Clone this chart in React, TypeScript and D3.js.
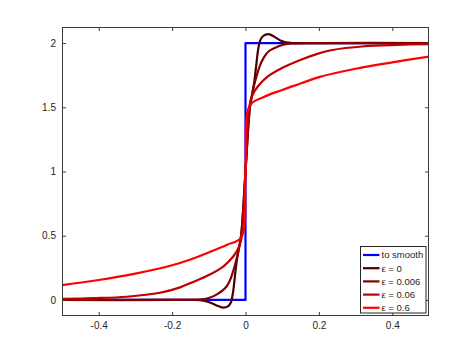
import React from 'react';
import * as d3 from 'd3';

const WIDTH = 474;
const HEIGHT = 355;
const BOX = { left: 62, right: 429, top: 27, bottom: 316 };
const FONT = '"Liberation Sans", Arial, Helvetica, sans-serif';
const AXIS_COLOR = '#3a3a3a';

// values
const xTicks = [-0.4, -0.2, 0, 0.2, 0.4];
const yTicks = [0, 0.5, 1, 1.5, 2];

const stepX = [-0.5, 0, 0, 0.5];
const stepY = [0, 0, 2, 2];

const eps0X = [-0.5, -0.3, -0.15, -0.124, -0.097, -0.075, -0.06, -0.048, -0.04, -0.034, -0.029, -0.024, -0.019, -0.012, 0,
  0.012, 0.019, 0.024, 0.029, 0.034, 0.04, 0.048, 0.063, 0.078, 0.095, 0.11, 0.13, 0.15, 0.3, 0.5];
const eps0Y = [0, 0, 0, -0.002, -0.02, -0.047, -0.06, -0.05, -0.02, 0.06, 0.18, 0.3, 0.39, 0.5, 1,
  1.5, 1.61, 1.7, 1.82, 1.94, 2.02, 2.055, 2.07, 2.05, 2.02, 2.005, 2, 2, 2, 2];

const eps1X = [-0.5, -0.2, -0.12, -0.1, -0.078, -0.051, -0.038, -0.029, -0.02, -0.012, 0,
  0.012, 0.02, 0.029, 0.038, 0.051, 0.065, 0.078, 0.1, 0.12, 0.2, 0.5];
const eps1Y = [0, 0, 0.005, 0.015, 0.043, 0.107, 0.185, 0.27, 0.37, 0.5, 1,
  1.5, 1.63, 1.73, 1.815, 1.893, 1.94, 1.96, 1.985, 1.995, 2, 2];

const eps2X = [-0.5, -0.415, -0.324, -0.233, -0.178, -0.151, -0.097, -0.06, -0.033, -0.018, -0.01, 0,
  0.01, 0.018, 0.033, 0.06, 0.097, 0.151, 0.2, 0.233, 0.324, 0.415, 0.5];
const eps2Y = [0.008, 0.014, 0.025, 0.056, 0.098, 0.13, 0.198, 0.262, 0.34, 0.41, 0.5, 1,
  1.5, 1.59, 1.66, 1.738, 1.802, 1.87, 1.92, 1.944, 1.975, 1.986, 1.992];

const eps3X = [-0.5, -0.4, -0.3, -0.2, -0.15, -0.1, -0.05, -0.012, 0,
  0.012, 0.05, 0.1, 0.15, 0.2, 0.3, 0.4, 0.5];
const eps3Y = [0.115, 0.155, 0.205, 0.27, 0.315, 0.37, 0.43, 0.485, 1,
  1.515, 1.58, 1.635, 1.685, 1.735, 1.8, 1.85, 1.895];

const seriesNames = ['to smooth', 'ε = 0', 'ε = 0.006', 'ε = 0.06', 'ε = 0.6'];
const seriesX = [stepX, eps0X, eps1X, eps2X, eps3X];
const seriesY = [stepY, eps0Y, eps1Y, eps2Y, eps3Y];
const COLORS = ['#0000ff', '#4a0000', '#840000', '#c00000', '#ff0000'];

const x = d3.scaleLinear().domain([-0.5, 0.5]).range([BOX.left, BOX.right]);
const y = d3.scaleLinear().domain([-0.125, 2.125]).range([BOX.bottom, BOX.top]);

/**
 * Style a d3 axis group MATLAB-like
 */
function styleAxis(sel) {
  sel.select('.domain').remove();
  sel.selectAll('line').attr('stroke', AXIS_COLOR);
  sel.selectAll('text').attr('fill', '#262626').style('font-family', FONT).style('font-size', '10px');
}

export default function App() {
  const fmt = (d) => `${d}`;

  const line = (xs, ys, step) => d3.line()
    .x((d, i) => x(xs[i]))
    .y((d, i) => y(ys[i]))
    .curve(step ? d3.curveLinear : d3.curveCatmullRom.alpha(0.5))(xs);

  const legend = { left: 360.5, top: 246.5, width: 65.5, height: 66.5, row: 13.2 };

  return <svg width={WIDTH} height={HEIGHT} style={{ position: 'absolute', left: 0, top: 0, background: '#fff' }}>
    <defs>
      <clipPath id='plot'>
        <rect x={BOX.left} y={BOX.top} width={BOX.right - BOX.left} height={BOX.bottom - BOX.top} />
      </clipPath>
    </defs>
    <rect x={BOX.left} y={BOX.top} width={BOX.right - BOX.left} height={BOX.bottom - BOX.top} fill='#fff' />

    <g clipPath='url(#plot)'>
      {seriesX.map((xs, i) =>
        <path key={i} d={line(xs, seriesY[i], i === 0)} fill='none' stroke={COLORS[i]} strokeWidth={2.2}
          strokeLinejoin='round' strokeLinecap='butt' />
      )}
    </g>

    <g transform={`translate(0,${BOX.bottom})`}
      ref={(el) => { if (el) d3.select(el).call(d3.axisBottom(x).tickValues(xTicks).tickFormat(fmt).tickSizeInner(-4).tickSizeOuter(0).tickPadding(6)).call(styleAxis); }} />
    <g transform={`translate(0,${BOX.top})`}
      ref={(el) => { if (el) d3.select(el).call(d3.axisTop(x).tickValues(xTicks).tickFormat(() => '').tickSizeInner(-4).tickSizeOuter(0)).call(styleAxis); }} />
    <g transform={`translate(${BOX.left},0)`}
      ref={(el) => { if (el) d3.select(el).call(d3.axisLeft(y).tickValues(yTicks).tickFormat(fmt).tickSizeInner(-4).tickSizeOuter(0).tickPadding(6)).call(styleAxis); }} />
    <g transform={`translate(${BOX.right},0)`}
      ref={(el) => { if (el) d3.select(el).call(d3.axisRight(y).tickValues(yTicks).tickFormat(() => '').tickSizeInner(-4).tickSizeOuter(0)).call(styleAxis); }} />

    <rect x={BOX.left + 0.5} y={BOX.top + 0.5} width={BOX.right - BOX.left - 1} height={BOX.bottom - BOX.top - 1}
      fill='none' stroke={AXIS_COLOR} strokeWidth={1} />

    <g>
      <rect x={legend.left} y={legend.top} width={legend.width} height={legend.height} fill='#fff' stroke='#262626' strokeWidth={1} />
      {seriesNames.map((name, i) => {
        const cy = legend.top + 8.5 + i * legend.row;
        return <g key={name}>
          <line x1={legend.left + 2.5} x2={legend.left + 19} y1={cy} y2={cy} stroke={COLORS[i]} strokeWidth={2.2} />
          <text x={legend.left + 21} y={cy} dy='0.35em' fill='#262626' style={{ fontFamily: FONT, fontSize: '9.5px' }}>{name}</text>
        </g>;
      })}
    </g>
  </svg>;
}
